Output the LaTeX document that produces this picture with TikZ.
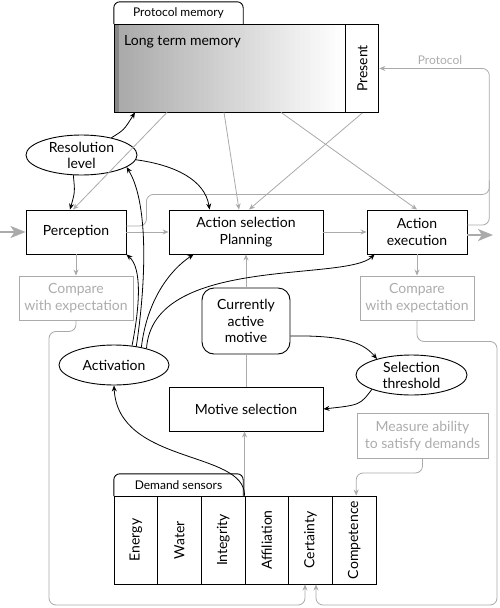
\documentclass[tikz,border=0pt]{standalone}
\usepackage{fontspec}
\setmainfont{Lato}
\usepackage{graphicx}
\usetikzlibrary{arrows.meta,calc,shapes.geometric}
\definecolor{LineClr}{RGB}{170,170,170}
\definecolor{TextClr}{RGB}{172,172,172}
\definecolor{MemDarkClr}{RGB}{135,135,135}

\begin{document}
\begin{tikzpicture}[x=1pt,y=-1pt,
  box/.style={draw,line width=0.9pt,minimum height=44pt,align=center,inner sep=1pt,font=\fontsize{14}{16.5}\selectfont},
  graybox/.style={box,draw=LineClr,text=TextClr},
  oval/.style={ellipse,draw,line width=0.9pt,minimum width=111pt,minimum height=40pt,inner sep=0pt,align=center,font=\fontsize{14}{16}\selectfont},
  tab/.style={minimum width=129pt,minimum height=22pt,inner sep=0pt,font=\fontsize{12}{14}\selectfont},
  sensor/.style={draw,line width=0.9pt,minimum width=43.67pt,minimum height=88pt,inner sep=0pt,font=\fontsize{14}{16}\selectfont},
  flow/.style={draw=LineClr,line width=0.8pt,-{Stealth[length=6pt,width=5pt]}},
  feed/.style={draw=LineClr,line width=0.8pt,rounded corners=7pt},
  ctrl/.style={line width=0.8pt,-{Stealth[length=6pt,width=5pt]}},
  bigflow/.style={draw=LineClr,line width=2pt,-{Stealth[length=15pt,width=12pt,inset=4pt]}}]
\useasboundingbox (0,0) rectangle (500,608);

\node[tab] (PMem) at (178.5,13) {Protocol memory};
\draw[line width=0.9pt,rounded corners=6pt] (PMem.south west) -- (PMem.north west) -- (PMem.north east) -- (PMem.south east);
\node[minimum width=231pt,minimum height=88pt,inner sep=0pt,anchor=north west] (LTM) at (114,24) {};
\foreach \k [evaluate=\k as \pct using {\k==0 ? 100 : 72*(1-\k/45)}] in {0,...,45}
  \fill[MemDarkClr!\pct!white] ($(LTM.south west)+(\k*5.02,0)$) rectangle ++(5.4,-88);
\draw[line width=0.9pt] (LTM.south west) rectangle (LTM.north east);
\node[anchor=north west,inner sep=0pt,font=\fontsize{14}{16}\selectfont] (LTMText) at ($(LTM.north west)+(10,11)$) {Long term memory};
\node[sensor,minimum width=33pt,anchor=north west] (Present) at (LTM.north east) {\rotatebox{90}{Present}};

\node[box,minimum width=100pt] (Perc) at (76,232) {Perception};
\node[box,minimum width=154pt] (ActSel) at (246,232) {Action selection\\Planning};
\node[box,minimum width=100pt] (ActExe) at (417,232) {Action\\execution};
\node[graybox,minimum width=114pt] (CmpL) at (76,298) {Compare\\with expectation};
\node[graybox,minimum width=114pt] (CmpR) at (417,298) {Compare\\with expectation};

\node[oval] (ResLvl) at (81.5,155) {Resolution\\level};
\node[oval,minimum width=110pt] (Activ) at (114,365) {Activation};
\node[box,rounded corners=12pt,minimum width=88pt,minimum height=66pt] (CurMot) at (246,321) {Currently\\active\\motive};
\node[oval] (SelThr) at (411.5,375) {Selection\\threshold};
\node[box,minimum width=154pt] (MotSel) at (246,409) {Motive selection};
\node[graybox,minimum width=131pt,minimum height=45pt] (Measure) at (422.5,436) {Measure ability\\to satisfy demands};

\node[tab] (DemTab) at (178.5,485) {Demand sensors};
\draw[line width=0.9pt,rounded corners=6pt] (DemTab.south west) -- (DemTab.north west) -- (DemTab.north east) -- (DemTab.south east);
\foreach \name [count=\i] in {Energy,Water,Integrity,Affiliation,Certainty,Competence}
  \node[sensor] (S\i) at ({114+43.67*(\i-0.5)},540) {\rotatebox{90}{\name}};

\node[font=\fontsize{12}{14}\selectfont,text=TextClr] (Proto) at (440,60) {Protocol};

\coordinate (In) at (0,232);
\coordinate (Out) at (493,235);
\coordinate (LoopL) at (49,605);
\coordinate (LoopR) at (497,605);

\draw[bigflow] (In) -- (Perc.west);
\draw[bigflow] (ActExe.east |- Out) -- (Out);
\draw[flow] (Perc.east) -- (ActSel.west);
\draw[flow] (ActSel.east) -- (ActExe.west);
\draw[flow] (Perc.south) -- (CmpL.north);
\draw[flow] (ActExe.south) -- (CmpR.north);
\draw[flow] (CurMot.north) -- (ActSel.south);
\draw[draw=LineClr,line width=0.8pt] (MotSel.north) -- (CurMot.south);
\draw[flow] (S4.north west) -- (S4.north west |- MotSel.south);

\draw[flow] ($(LTM.south west)+(53,0)$) -- ($(Perc.north)+(-3,0)$);
\draw[flow] ($(LTM.south west)+(110,0)$) -- ($(ActSel.north)+(-7,0)$);
\draw[flow] ($(LTM.south west)+(167,0)$) -- (ActExe.north);
\draw[flow] (Present.south) -- ($(ActSel.north)+(3,0)$);

\draw[feed,-{Stealth[length=6pt,width=5pt]}] ($(ActExe.east)+(0,-7)$) -| ($(Present.east)+(110,0)$) -- (Present.east);
\draw[feed] ($(Perc.east)+(0,-6)$) -- ++(20,0) |- ($(Present.east)+(110,126)$) -- ++(0,-14);
\draw[feed,-{Stealth[length=6pt,width=5pt]}] (CmpL.south) -- ++(0,11) -| (LoopL) -| ($(S5.south)+(-5.5,0)$);
\draw[feed,-{Stealth[length=6pt,width=5pt]}] (CmpR.south) -- ++(0,21) -| (LoopR) -| ($(S5.south)+(5.5,0)$);
\draw[feed,-{Stealth[length=6pt,width=5pt]}] (Measure.south) -- ++(0,14) -| ($(S6.north)+(2,0)$);

\draw[ctrl] (ResLvl.30) .. controls (124,130) .. ($(LTM.south west)+(21,0)$);
\draw[ctrl] (ResLvl.-5) .. controls (175,165) and (205,180) .. ($(ActSel.north west)+(41,0)$);
\draw[ctrl] (ResLvl.-112) .. controls (75,192) .. ($(Perc.north)+(-6,0)$);

\draw[ctrl] (Activ.47) .. controls (140,305) and (142,268) .. (Perc.south east);
\draw[ctrl] (Activ.40) .. controls (145,290) and (150,205) .. (ResLvl.-15);
\draw[ctrl] (Activ.33) .. controls (147,300) and (170,270) .. ($(ActSel.south west)+(25,0)$);
\draw[ctrl] (Activ.27) .. controls (153,255) and (345,282) .. ($(ActExe.south west)+(8,0)$);

\draw[ctrl] ($(CurMot.east)+(0,15)$) .. controls (350,335) and (365,345) .. (SelThr.155);
\draw[ctrl] (SelThr.-160) .. controls (360,405) .. (MotSel.east);
\draw[ctrl] (S4.north west) .. controls (245,450) and (118,465) .. (Activ.south);

\end{tikzpicture}
\end{document}
